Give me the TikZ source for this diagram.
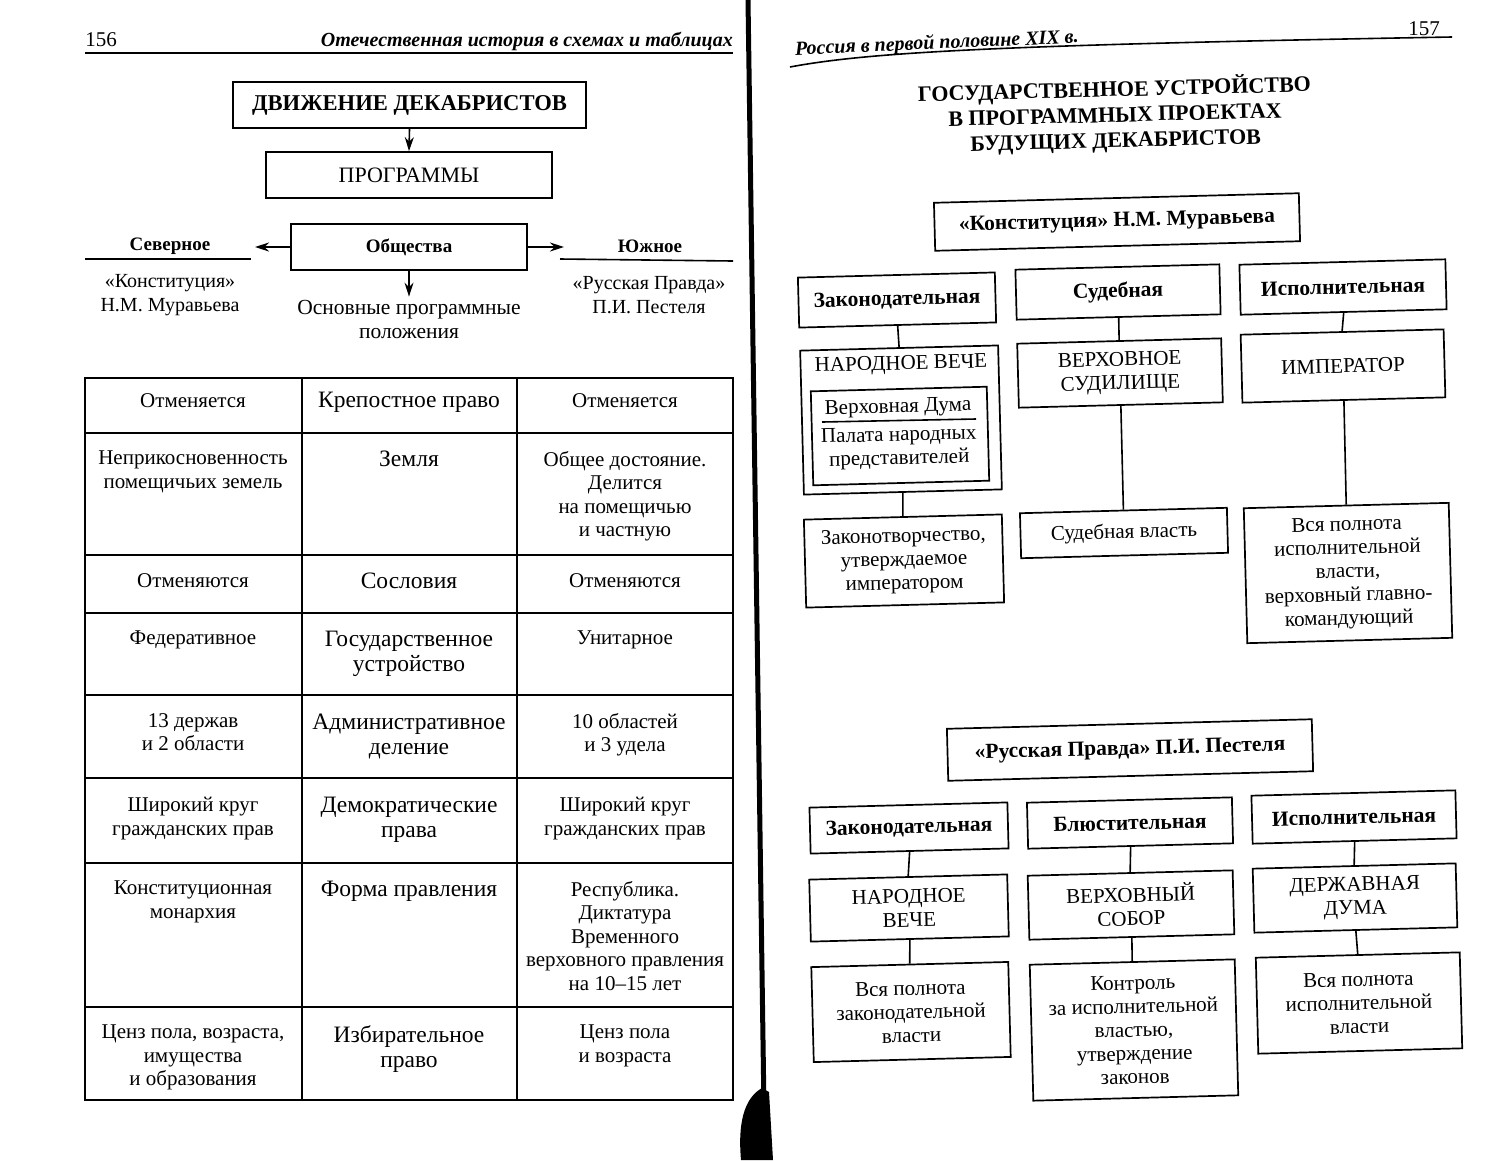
\documentclass[tikz,border=0pt]{standalone}
\usepackage{fontspec}
\setmainfont{Liberation Serif}
\usetikzlibrary{arrows.meta}
\newcommand\ftxt{\fontsize{21}{23.5}\selectfont}
\newcommand\fmid{\fontsize{23.5}{25}\selectfont}
\newcommand\fhd{\fontsize{21.5}{24}\selectfont\bfseries}
\newcommand\fsm{\fontsize{19}{22}\selectfont\bfseries}
\newcommand\fbig{\fontsize{22}{25.5}\selectfont\bfseries}
\begin{document}
\begin{tikzpicture}[x=1pt,y=-1pt,
  every node/.style={inner sep=0pt, align=center, font=\ftxt},
  bx/.style 2 args={draw, line width=1.7pt, minimum width=#1, minimum height=#2},
  rb/.style 2 args={bx={#1}{#2}, rotate=1.5},
  rt/.style={rotate=1.5},
  ln/.style={line width=1.6pt},
  arr/.style={line width=1.6pt, -{Stealth[length=14pt,width=9pt]}},
  cell/.style={anchor=north, font=\ftxt},
  mcell/.style={anchor=north, font=\fmid}
]
\fill[white] (0,0) rectangle (1490,1160);
\useasboundingbox (0,0) rectangle (1490,1160);

% gutter
\draw[line width=5pt] (748,0) -- (764,1110);
\fill (762,1088) .. controls (748,1096) and (737,1115) .. (741,1160) -- (773,1160) -- (769,1092) -- cycle;

% ---------------- left page ----------------
\node (pg1) at (101,40) {156};
\node[anchor=east, font=\fontsize{20}{23}\selectfont\bfseries\itshape] (hd1) at (733,41) {Отечественная история в схемах и таблицах};
\coordinate (r1a) at (85,53); \coordinate (r1b) at (733,53);
\draw[ln] (r1a) -- (r1b);

\node[bx={353}{46}, font={\fontsize{22.6}{25}\selectfont\bfseries}] (dd) at (409.5,105) {ДВИЖЕНИЕ ДЕКАБРИСТОВ};
\node[bx={286}{46}, font={\fontsize{22}{25}\selectfont}] (prog) at (409,175) {ПРОГРАММЫ};
\node[bx={236}{46}, font=\fsm] (obsh) at (409,247) {Общества};
\draw[arr] (dd.south) -- (prog.north);

\node[font=\fsm] (sev) at (170,246) {Северное};
\node[font=\fsm] (yuzh) at (650,246) {Южное};
\coordinate (sevtip) at (255,247);
\coordinate (yuztip) at (564,247);
\draw[arr] (obsh.west) -- (sevtip);
\draw[arr] (obsh.east) -- (yuztip);
\coordinate (sevL) at (85,259); \coordinate (sevR) at (251,259);
\draw[ln] (sevL) -- (sevR);
\coordinate (yuL) at (560,259); \coordinate (yuR) at (733,261);
\draw[ln] (yuL) -- (yuR);
\node[font={\fontsize{20}{24}\selectfont}] (konst) at (170,295) {«Конституция»\\Н.М. Муравьева};
\node[font={\fontsize{21.5}{24}\selectfont}] (osn) at (409,319) {Основные программные\\положения};
\draw[arr, shorten >=3pt] (obsh.south) -- (osn.north);
\node[font={\fontsize{20}{24}\selectfont}] (rpr) at (649,295) {«Русская Правда»\\П.И. Пестеля};

% table
\draw[ln] (85,378) rectangle (733,1100);
\foreach \yy in {433,555,613,695,778,863,1007} \draw[ln] (85,\yy) -- (733,\yy);
\draw[ln] (302,378) -- (302,1100);
\draw[ln] (517,378) -- (517,1100);

\node[cell]  (a1) at (193,393) {Отменяется};
\node[mcell] (b1) at (409,392) {Крепостное право};
\node[cell]  (c1) at (625,393) {Отменяется};

\node[cell]  (a2) at (193,451) {Неприкосновенность\\помещичьих земель};
\node[mcell] (b2) at (409,451) {Земля};
\node[cell]  (c2) at (625,451) {Общее достояние.\\Делится\\на помещичью\\и частную};

\node[cell]  (a3) at (193,573) {Отменяются};
\node[mcell] (b3) at (409,573) {Сословия};
\node[cell]  (c3) at (625,573) {Отменяются};

\node[cell]  (a4) at (193,631) {Федеративное};
\node[mcell] (b4) at (409,631) {Государственное\\устройство};
\node[cell]  (c4) at (625,631) {Унитарное};

\node[cell]  (a5) at (193,713) {13 держав\\и 2 области};
\node[mcell] (b5) at (409,714) {Административное\\деление};
\node[cell]  (c5) at (625,713) {10 областей\\и 3 удела};

\node[cell]  (a6) at (193,797) {Широкий круг\\гражданских прав};
\node[mcell] (b6) at (409,797) {Демократические\\права};
\node[cell]  (c6) at (625,797) {Широкий круг\\гражданских прав};

\node[cell]  (a7) at (193,881) {Конституционная\\монархия};
\node[mcell] (b7) at (409,881) {Форма правления};
\node[cell]  (c7) at (625,881) {Республика.\\Диктатура\\Временного\\верховного правления\\на 10–15 лет};

\node[cell]  (a8) at (193,1025) {Ценз пола, возраста,\\имущества\\и образования};
\node[mcell] (b8) at (409,1025) {Избирательное\\право};
\node[cell]  (c8) at (625,1025) {Ценз пола\\и возраста};

% ---------------- right page ----------------
\node[anchor=west, rotate=2.5, font=\fontsize{20}{23}\selectfont\bfseries\itshape] (hd2) at (795,50) {Россия в первой половине XIX в.};
\node[font=\fontsize{21}{23}\selectfont] (pg2) at (1424,29) {157};
\coordinate (r2a) at (790,67); \coordinate (r2b) at (1452,37);
\draw[ln] (r2a) .. controls (870,52) and (1000,45) .. (r2b);

\node[rt, font=\fbig] (title) at (1115,115) {ГОСУДАРСТВЕННОЕ УСТРОЙСТВО\\В ПРОГРАММНЫХ ПРОЕКТАХ\\БУДУЩИХ ДЕКАБРИСТОВ};

% Muravyov
\node[rb={365}{48}, font=\fhd] (k1) at (1117,222) {«Конституция» Н.М. Муравьева};
\node[rb={197}{50}, font=\fhd] (z1) at (897,300) {Законодательная};
\node[rb={204}{50}, font=\fhd] (s1) at (1118,292) {Судебная};
\node[rb={206}{50}, font=\fhd] (i1) at (1343,287) {Исполнительная};

\node[rb={198}{144}] (nv1) at (901,420) {};
\node[rt] (nv1t) at (901,365) {НАРОДНОЕ ВЕЧЕ};
\node[rb={176}{94}] (nv1i) at (900,436) {};
\node[rt] (vd) at (898,408) {Верховная Дума};
\coordinate (vdl) at (822,422); \coordinate (vdr) at (976,419);
\draw[ln] (vdl) -- (vdr);
\node[rt] (pnp) at (899,448) {Палата народных\\представителей};

\node[rb={204}{64}] (vs) at (1120,373) {ВЕРХОВНОЕ\\СУДИЛИЩЕ};
\node[rb={203}{68}] (imp) at (1343,366) {ИМПЕРАТОР};

\node[rb={198}{88}] (zt) at (904,561) {Законотворчество,\\утверждаемое\\императором};
\node[rb={207}{45}] (sv) at (1124,533) {Судебная власть};
\node[rb={205}{135}] (vp) at (1348,573) {Вся полнота\\исполнительной\\власти,\\верховный главно-\\командующий};

\draw[ln] (z1.south) -- (nv1.north);
\draw[ln] (nv1.south) -- (zt.north);
\draw[ln] (s1.south) -- (vs.north);
\draw[ln] (vs.south) -- (sv.north);
\draw[ln] (i1.south) -- (imp.north);
\draw[ln] (imp.south) -- (vp.north);

% Pestel
\node[rb={365}{52}, font=\fhd] (rp) at (1130,750) {«Русская Правда» П.И. Пестеля};
\node[rb={198}{46}, font=\fhd] (z2) at (909,828) {Законодательная};
\node[rb={205}{46}, font=\fhd] (b2r) at (1130,823) {Блюстительная};
\node[rb={204}{48}, font=\fhd] (i2) at (1354,817) {Исполнительная};

\node[rb={198}{62}] (nv2) at (909,908) {НАРОДНОЕ\\ВЕЧЕ};
\node[rb={205}{64}] (vsob) at (1131,905) {ВЕРХОВНЫЙ\\СОБОР};
\node[rb={203}{64}] (ddu) at (1355,898) {ДЕРЖАВНАЯ\\ДУМА};

\node[rb={197}{95}] (l1) at (911,1012) {Вся полнота\\законодательной\\власти};
\node[rb={205}{136}] (l2) at (1134,1030) {Контроль\\за исполнительной\\властью,\\утверждение\\законов};
\node[rb={204}{96}] (l3) at (1359,1003) {Вся полнота\\исполнительной\\власти};

\draw[ln] (z2.south) -- (nv2.north);
\draw[ln] (nv2.south) -- (l1.north);
\draw[ln] (b2r.south) -- (vsob.north);
\draw[ln] (vsob.south) -- (l2.north);
\draw[ln] (i2.south) -- (ddu.north);
\draw[ln] (ddu.south) -- (l3.north);
\end{tikzpicture}
\end{document}
